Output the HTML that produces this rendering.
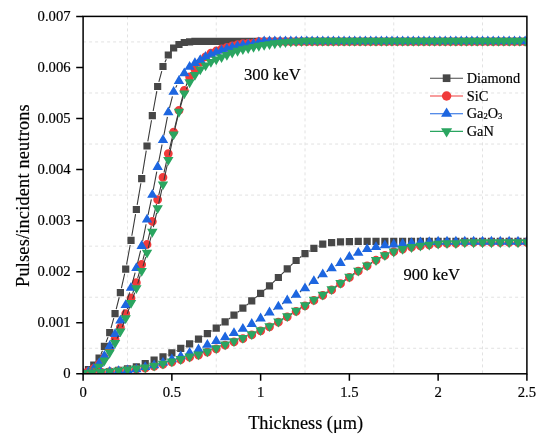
<!DOCTYPE html>
<html lang="en"><head><meta charset="utf-8"><title>Pulses per incident neutron vs thickness</title>
<style>
html,body{margin:0;padding:0;background:#fff}
body{width:550px;height:443px;overflow:hidden}
svg{display:block}
text{font-family:"Liberation Serif","Times New Roman",serif;fill:#000;stroke:#000;stroke-width:0.18px}
.tk{font-size:14.7px}
.lg{font-size:14.35px}
.an{font-size:16.6px}
.ti{font-size:18.3px}
</style></head><body>
<svg width="550" height="443" viewBox="0 0 550 443">
<rect width="550" height="443" fill="#fff"/>
<path d="M127.48 16.4V373.8M216.24 16.4V373.8M305 16.4V373.8M393.76 16.4V373.8M482.52 16.4V373.8M83.1 348.27H526.9M83.1 297.21H526.9M83.1 246.16H526.9M83.1 195.1H526.9M83.1 144.04H526.9M83.1 92.99H526.9M83.1 41.93H526.9" stroke="#e2e2e2" stroke-width="1" stroke-dasharray="3 3" fill="none"/>
<clipPath id="fr"><rect x="83.1" y="16.4" width="443.8" height="357.4"/></clipPath><g clip-path="url(#fr)">
<g><path d="M101.01 353.92L102.47 350.68M106.11 342.02L108.03 337.08M110.99 328.17L113.79 318.13M116.21 309.05L119.22 297.25M121.41 288.12L124.67 273.68M126.56 264.48L130.17 245.02M131.83 235.77L135.56 214.13M137.15 204.87L140.88 183.23M142.44 173.96L146.25 150.64M147.82 141.37L151.52 120.23M153.18 110.98L156.81 91.12M158.87 81.96L161.77 71.04M164.96 62.24L166.33 59.26" stroke="#3a3a3a" stroke-width="1.1" fill="none"/><path d="M79.5 369.9h7.2v7.2h-7.2zM84.83 365.9h7.2v7.2h-7.2zM90.15 361.5h7.2v7.2h-7.2zM95.48 354.6h7.2v7.2h-7.2zM100.8 342.8h7.2v7.2h-7.2zM106.13 329.1h7.2v7.2h-7.2zM111.45 310h7.2v7.2h-7.2zM116.78 289.1h7.2v7.2h-7.2zM122.1 265.5h7.2v7.2h-7.2zM127.43 236.8h7.2v7.2h-7.2zM132.76 205.9h7.2v7.2h-7.2zM138.08 175h7.2v7.2h-7.2zM143.41 142.4h7.2v7.2h-7.2zM148.73 112h7.2v7.2h-7.2zM154.06 82.9h7.2v7.2h-7.2zM159.38 62.9h7.2v7.2h-7.2zM164.71 51.4h7.2v7.2h-7.2zM170.04 44.4h7.2v7.2h-7.2zM175.36 40.9h7.2v7.2h-7.2zM180.69 38.9h7.2v7.2h-7.2zM186.01 38.2h7.2v7.2h-7.2zM191.34 37.8h7.2v7.2h-7.2zM196.66 37.7h7.2v7.2h-7.2zM201.99 37.7h7.2v7.2h-7.2zM207.31 37.7h7.2v7.2h-7.2zM212.64 37.7h7.2v7.2h-7.2zM217.97 37.7h7.2v7.2h-7.2zM223.29 37.7h7.2v7.2h-7.2zM228.62 37.7h7.2v7.2h-7.2zM233.94 37.7h7.2v7.2h-7.2zM239.27 37.7h7.2v7.2h-7.2zM244.59 37.7h7.2v7.2h-7.2zM249.92 37.7h7.2v7.2h-7.2zM255.24 37.7h7.2v7.2h-7.2zM260.57 37.7h7.2v7.2h-7.2zM265.9 37.7h7.2v7.2h-7.2zM271.22 37.7h7.2v7.2h-7.2zM276.55 37.7h7.2v7.2h-7.2zM281.87 37.7h7.2v7.2h-7.2zM287.2 37.7h7.2v7.2h-7.2zM292.52 37.7h7.2v7.2h-7.2zM297.85 37.7h7.2v7.2h-7.2zM303.18 37.7h7.2v7.2h-7.2zM308.5 37.7h7.2v7.2h-7.2zM313.83 37.7h7.2v7.2h-7.2zM319.15 37.7h7.2v7.2h-7.2zM324.48 37.7h7.2v7.2h-7.2zM329.8 37.7h7.2v7.2h-7.2zM335.13 37.7h7.2v7.2h-7.2zM340.45 37.7h7.2v7.2h-7.2zM345.78 37.7h7.2v7.2h-7.2zM351.11 37.7h7.2v7.2h-7.2zM356.43 37.7h7.2v7.2h-7.2zM361.76 37.7h7.2v7.2h-7.2zM367.08 37.7h7.2v7.2h-7.2zM372.41 37.7h7.2v7.2h-7.2zM377.73 37.7h7.2v7.2h-7.2zM383.06 37.7h7.2v7.2h-7.2zM388.38 37.7h7.2v7.2h-7.2zM393.71 37.7h7.2v7.2h-7.2zM399.04 37.7h7.2v7.2h-7.2zM404.36 37.7h7.2v7.2h-7.2zM409.69 37.7h7.2v7.2h-7.2zM415.01 37.7h7.2v7.2h-7.2zM420.34 37.7h7.2v7.2h-7.2zM425.66 37.7h7.2v7.2h-7.2zM430.99 37.7h7.2v7.2h-7.2zM436.32 37.7h7.2v7.2h-7.2zM441.64 37.7h7.2v7.2h-7.2zM446.97 37.7h7.2v7.2h-7.2zM452.29 37.7h7.2v7.2h-7.2zM457.62 37.7h7.2v7.2h-7.2zM462.94 37.7h7.2v7.2h-7.2zM468.27 37.7h7.2v7.2h-7.2zM473.59 37.7h7.2v7.2h-7.2zM478.92 37.7h7.2v7.2h-7.2zM484.25 37.7h7.2v7.2h-7.2zM489.57 37.7h7.2v7.2h-7.2zM494.9 37.7h7.2v7.2h-7.2zM500.22 37.7h7.2v7.2h-7.2zM505.55 37.7h7.2v7.2h-7.2zM510.87 37.7h7.2v7.2h-7.2zM516.2 37.7h7.2v7.2h-7.2zM521.52 37.7h7.2v7.2h-7.2z" fill="#474747"/></g>
<g><path d="M106.9 353.52L107.23 352.98M111.95 344.86L112.83 343.24M116.99 334.82L118.45 331.58M122.08 322.92L124 317.98M127.22 309.15L129.51 302.45M132.58 293.56L134.81 287.14M137.68 278.19L140.36 269.01M142.89 259.96L145.8 249.04M148.07 239.92L151.27 226.08M153.44 216.93L156.55 204.17M158.75 195.03L161.89 181.87M164.01 172.71L167.28 158.19M169.44 149.04L172.51 136.66M174.76 127.54L177.84 114.96M180.17 105.86L183.08 94.94M186 86.02L187.9 81.18" stroke="#3a3a3a" stroke-width="1.1" fill="none"/><path d="M78.7 373.5a4.4 4.4 0 1 0 8.8 0a4.4 4.4 0 1 0 -8.8 0zM84.03 371.5a4.4 4.4 0 1 0 8.8 0a4.4 4.4 0 1 0 -8.8 0zM89.35 368.5a4.4 4.4 0 1 0 8.8 0a4.4 4.4 0 1 0 -8.8 0zM94.68 364a4.4 4.4 0 1 0 8.8 0a4.4 4.4 0 1 0 -8.8 0zM100 357.5a4.4 4.4 0 1 0 8.8 0a4.4 4.4 0 1 0 -8.8 0zM105.33 349a4.4 4.4 0 1 0 8.8 0a4.4 4.4 0 1 0 -8.8 0zM110.65 339.1a4.4 4.4 0 1 0 8.8 0a4.4 4.4 0 1 0 -8.8 0zM115.98 327.3a4.4 4.4 0 1 0 8.8 0a4.4 4.4 0 1 0 -8.8 0zM121.3 313.6a4.4 4.4 0 1 0 8.8 0a4.4 4.4 0 1 0 -8.8 0zM126.63 298a4.4 4.4 0 1 0 8.8 0a4.4 4.4 0 1 0 -8.8 0zM131.96 282.7a4.4 4.4 0 1 0 8.8 0a4.4 4.4 0 1 0 -8.8 0zM137.28 264.5a4.4 4.4 0 1 0 8.8 0a4.4 4.4 0 1 0 -8.8 0zM142.61 244.5a4.4 4.4 0 1 0 8.8 0a4.4 4.4 0 1 0 -8.8 0zM147.93 221.5a4.4 4.4 0 1 0 8.8 0a4.4 4.4 0 1 0 -8.8 0zM153.26 199.6a4.4 4.4 0 1 0 8.8 0a4.4 4.4 0 1 0 -8.8 0zM158.58 177.3a4.4 4.4 0 1 0 8.8 0a4.4 4.4 0 1 0 -8.8 0zM163.91 153.6a4.4 4.4 0 1 0 8.8 0a4.4 4.4 0 1 0 -8.8 0zM169.24 132.1a4.4 4.4 0 1 0 8.8 0a4.4 4.4 0 1 0 -8.8 0zM174.56 110.4a4.4 4.4 0 1 0 8.8 0a4.4 4.4 0 1 0 -8.8 0zM179.89 90.4a4.4 4.4 0 1 0 8.8 0a4.4 4.4 0 1 0 -8.8 0zM185.21 76.8a4.4 4.4 0 1 0 8.8 0a4.4 4.4 0 1 0 -8.8 0zM190.54 69.4a4.4 4.4 0 1 0 8.8 0a4.4 4.4 0 1 0 -8.8 0zM195.86 62.3a4.4 4.4 0 1 0 8.8 0a4.4 4.4 0 1 0 -8.8 0zM201.19 56.8a4.4 4.4 0 1 0 8.8 0a4.4 4.4 0 1 0 -8.8 0zM206.51 53.2a4.4 4.4 0 1 0 8.8 0a4.4 4.4 0 1 0 -8.8 0zM211.84 51a4.4 4.4 0 1 0 8.8 0a4.4 4.4 0 1 0 -8.8 0zM217.17 49a4.4 4.4 0 1 0 8.8 0a4.4 4.4 0 1 0 -8.8 0zM222.49 47.3a4.4 4.4 0 1 0 8.8 0a4.4 4.4 0 1 0 -8.8 0zM227.82 45.9a4.4 4.4 0 1 0 8.8 0a4.4 4.4 0 1 0 -8.8 0zM233.14 44.6a4.4 4.4 0 1 0 8.8 0a4.4 4.4 0 1 0 -8.8 0zM238.47 43.7a4.4 4.4 0 1 0 8.8 0a4.4 4.4 0 1 0 -8.8 0zM243.79 43.3a4.4 4.4 0 1 0 8.8 0a4.4 4.4 0 1 0 -8.8 0zM249.12 43.1a4.4 4.4 0 1 0 8.8 0a4.4 4.4 0 1 0 -8.8 0zM254.44 41.7a4.4 4.4 0 1 0 8.8 0a4.4 4.4 0 1 0 -8.8 0zM259.77 41.7a4.4 4.4 0 1 0 8.8 0a4.4 4.4 0 1 0 -8.8 0zM265.1 41.7a4.4 4.4 0 1 0 8.8 0a4.4 4.4 0 1 0 -8.8 0zM270.42 41.7a4.4 4.4 0 1 0 8.8 0a4.4 4.4 0 1 0 -8.8 0zM275.75 41.7a4.4 4.4 0 1 0 8.8 0a4.4 4.4 0 1 0 -8.8 0zM281.07 41.7a4.4 4.4 0 1 0 8.8 0a4.4 4.4 0 1 0 -8.8 0zM286.4 41.7a4.4 4.4 0 1 0 8.8 0a4.4 4.4 0 1 0 -8.8 0zM291.72 41.7a4.4 4.4 0 1 0 8.8 0a4.4 4.4 0 1 0 -8.8 0zM297.05 41.7a4.4 4.4 0 1 0 8.8 0a4.4 4.4 0 1 0 -8.8 0zM302.38 41.7a4.4 4.4 0 1 0 8.8 0a4.4 4.4 0 1 0 -8.8 0zM307.7 41.7a4.4 4.4 0 1 0 8.8 0a4.4 4.4 0 1 0 -8.8 0zM313.03 41.7a4.4 4.4 0 1 0 8.8 0a4.4 4.4 0 1 0 -8.8 0zM318.35 41.7a4.4 4.4 0 1 0 8.8 0a4.4 4.4 0 1 0 -8.8 0zM323.68 41.7a4.4 4.4 0 1 0 8.8 0a4.4 4.4 0 1 0 -8.8 0zM329 41.7a4.4 4.4 0 1 0 8.8 0a4.4 4.4 0 1 0 -8.8 0zM334.33 41.7a4.4 4.4 0 1 0 8.8 0a4.4 4.4 0 1 0 -8.8 0zM339.65 41.7a4.4 4.4 0 1 0 8.8 0a4.4 4.4 0 1 0 -8.8 0zM344.98 41.7a4.4 4.4 0 1 0 8.8 0a4.4 4.4 0 1 0 -8.8 0zM350.31 41.7a4.4 4.4 0 1 0 8.8 0a4.4 4.4 0 1 0 -8.8 0zM355.63 41.7a4.4 4.4 0 1 0 8.8 0a4.4 4.4 0 1 0 -8.8 0zM360.96 41.7a4.4 4.4 0 1 0 8.8 0a4.4 4.4 0 1 0 -8.8 0zM366.28 41.7a4.4 4.4 0 1 0 8.8 0a4.4 4.4 0 1 0 -8.8 0zM371.61 41.7a4.4 4.4 0 1 0 8.8 0a4.4 4.4 0 1 0 -8.8 0zM376.93 41.7a4.4 4.4 0 1 0 8.8 0a4.4 4.4 0 1 0 -8.8 0zM382.26 41.7a4.4 4.4 0 1 0 8.8 0a4.4 4.4 0 1 0 -8.8 0zM387.58 41.7a4.4 4.4 0 1 0 8.8 0a4.4 4.4 0 1 0 -8.8 0zM392.91 41.7a4.4 4.4 0 1 0 8.8 0a4.4 4.4 0 1 0 -8.8 0zM398.24 41.7a4.4 4.4 0 1 0 8.8 0a4.4 4.4 0 1 0 -8.8 0zM403.56 41.7a4.4 4.4 0 1 0 8.8 0a4.4 4.4 0 1 0 -8.8 0zM408.89 41.7a4.4 4.4 0 1 0 8.8 0a4.4 4.4 0 1 0 -8.8 0zM414.21 41.7a4.4 4.4 0 1 0 8.8 0a4.4 4.4 0 1 0 -8.8 0zM419.54 41.7a4.4 4.4 0 1 0 8.8 0a4.4 4.4 0 1 0 -8.8 0zM424.86 41.7a4.4 4.4 0 1 0 8.8 0a4.4 4.4 0 1 0 -8.8 0zM430.19 41.7a4.4 4.4 0 1 0 8.8 0a4.4 4.4 0 1 0 -8.8 0zM435.52 41.7a4.4 4.4 0 1 0 8.8 0a4.4 4.4 0 1 0 -8.8 0zM440.84 41.7a4.4 4.4 0 1 0 8.8 0a4.4 4.4 0 1 0 -8.8 0zM446.17 41.7a4.4 4.4 0 1 0 8.8 0a4.4 4.4 0 1 0 -8.8 0zM451.49 41.7a4.4 4.4 0 1 0 8.8 0a4.4 4.4 0 1 0 -8.8 0zM456.82 41.7a4.4 4.4 0 1 0 8.8 0a4.4 4.4 0 1 0 -8.8 0zM462.14 41.7a4.4 4.4 0 1 0 8.8 0a4.4 4.4 0 1 0 -8.8 0zM467.47 41.7a4.4 4.4 0 1 0 8.8 0a4.4 4.4 0 1 0 -8.8 0zM472.79 41.7a4.4 4.4 0 1 0 8.8 0a4.4 4.4 0 1 0 -8.8 0zM478.12 41.7a4.4 4.4 0 1 0 8.8 0a4.4 4.4 0 1 0 -8.8 0zM483.45 41.7a4.4 4.4 0 1 0 8.8 0a4.4 4.4 0 1 0 -8.8 0zM488.77 41.7a4.4 4.4 0 1 0 8.8 0a4.4 4.4 0 1 0 -8.8 0zM494.1 41.7a4.4 4.4 0 1 0 8.8 0a4.4 4.4 0 1 0 -8.8 0zM499.42 41.7a4.4 4.4 0 1 0 8.8 0a4.4 4.4 0 1 0 -8.8 0zM504.75 41.7a4.4 4.4 0 1 0 8.8 0a4.4 4.4 0 1 0 -8.8 0zM510.07 41.7a4.4 4.4 0 1 0 8.8 0a4.4 4.4 0 1 0 -8.8 0zM515.4 41.7a4.4 4.4 0 1 0 8.8 0a4.4 4.4 0 1 0 -8.8 0zM520.72 41.7a4.4 4.4 0 1 0 8.8 0a4.4 4.4 0 1 0 -8.8 0z" fill="#f03b3b"/></g>
<g><path d="M106.61 351.8L107.52 350.1M111.66 341.67L113.12 338.43M116.77 329.77L118.67 324.93M121.91 316.11L124.18 309.49M127.09 300.56L129.64 292.34M132.26 283.31L135.13 272.69M137.45 263.58L140.59 250.52M142.61 241.34L146.07 224.26M147.99 215.05L151.35 199.35M153.22 190.13L156.77 171.57M158.57 162.34L162.07 144.66M163.87 135.43L167.42 116.97M169.49 107.8L172.45 96.4M175.7 87.63L176.9 85.17" stroke="#3a3a3a" stroke-width="1.1" fill="none"/><path d="M83.1 367.93L88.3 376.73L77.9 376.73zM88.43 366.08L93.63 374.88L83.23 374.88zM93.75 363.08L98.95 371.88L88.55 371.88zM99.08 357.58L104.28 366.38L93.88 366.38zM104.4 350.08L109.6 358.88L99.2 358.88zM109.73 340.08L114.93 348.88L104.53 348.88zM115.05 328.28L120.25 337.08L109.85 337.08zM120.38 314.68L125.58 323.48L115.18 323.48zM125.7 299.18L130.9 307.98L120.5 307.98zM131.03 281.98L136.23 290.78L125.83 290.78zM136.36 262.28L141.56 271.08L131.16 271.08zM141.68 240.08L146.88 248.88L136.48 248.88zM147.01 213.78L152.21 222.58L141.81 222.58zM152.33 188.88L157.53 197.68L147.13 197.68zM157.66 161.08L162.86 169.88L152.46 169.88zM162.98 134.18L168.18 142.98L157.78 142.98zM168.31 106.48L173.51 115.28L163.11 115.28zM173.64 85.98L178.84 94.78L168.44 94.78zM178.96 75.08L184.16 83.88L173.76 83.88zM184.29 67.38L189.49 76.18L179.09 76.18zM189.61 60.98L194.81 69.78L184.41 69.78zM194.94 57.28L200.14 66.08L189.74 66.08zM200.26 54.18L205.46 62.98L195.06 62.98zM205.59 51.08L210.79 59.88L200.39 59.88zM210.91 48.78L216.11 57.58L205.71 57.58zM216.24 46.58L221.44 55.38L211.04 55.38zM221.57 44.58L226.77 53.38L216.37 53.38zM226.89 42.88L232.09 51.68L221.69 51.68zM232.22 41.48L237.42 50.28L227.02 50.28zM237.54 40.18L242.74 48.98L232.34 48.98zM242.87 39.28L248.07 48.08L237.67 48.08zM248.19 38.68L253.39 47.48L242.99 47.48zM253.52 37.88L258.72 46.68L248.32 46.68zM258.84 36.48L264.04 45.28L253.64 45.28zM264.17 35.43L269.37 44.23L258.97 44.23zM269.5 35.43L274.7 44.23L264.3 44.23zM274.82 35.43L280.02 44.23L269.62 44.23zM280.15 35.43L285.35 44.23L274.95 44.23zM285.47 35.43L290.67 44.23L280.27 44.23zM290.8 35.43L296 44.23L285.6 44.23zM296.12 35.43L301.32 44.23L290.92 44.23zM301.45 35.43L306.65 44.23L296.25 44.23zM306.78 35.43L311.98 44.23L301.58 44.23zM312.1 35.43L317.3 44.23L306.9 44.23zM317.43 35.43L322.63 44.23L312.23 44.23zM322.75 35.43L327.95 44.23L317.55 44.23zM328.08 35.43L333.28 44.23L322.88 44.23zM333.4 35.43L338.6 44.23L328.2 44.23zM338.73 35.43L343.93 44.23L333.53 44.23zM344.05 35.43L349.25 44.23L338.85 44.23zM349.38 35.43L354.58 44.23L344.18 44.23zM354.71 35.43L359.91 44.23L349.51 44.23zM360.03 35.43L365.23 44.23L354.83 44.23zM365.36 35.43L370.56 44.23L360.16 44.23zM370.68 35.43L375.88 44.23L365.48 44.23zM376.01 35.43L381.21 44.23L370.81 44.23zM381.33 35.43L386.53 44.23L376.13 44.23zM386.66 35.43L391.86 44.23L381.46 44.23zM391.98 35.43L397.18 44.23L386.78 44.23zM397.31 35.43L402.51 44.23L392.11 44.23zM402.64 35.43L407.84 44.23L397.44 44.23zM407.96 35.43L413.16 44.23L402.76 44.23zM413.29 35.43L418.49 44.23L408.09 44.23zM418.61 35.43L423.81 44.23L413.41 44.23zM423.94 35.43L429.14 44.23L418.74 44.23zM429.26 35.43L434.46 44.23L424.06 44.23zM434.59 35.43L439.79 44.23L429.39 44.23zM439.92 35.43L445.12 44.23L434.72 44.23zM445.24 35.43L450.44 44.23L440.04 44.23zM450.57 35.43L455.77 44.23L445.37 44.23zM455.89 35.43L461.09 44.23L450.69 44.23zM461.22 35.43L466.42 44.23L456.02 44.23zM466.54 35.43L471.74 44.23L461.34 44.23zM471.87 35.43L477.07 44.23L466.67 44.23zM477.19 35.43L482.39 44.23L471.99 44.23zM482.52 35.43L487.72 44.23L477.32 44.23zM487.85 35.43L493.05 44.23L482.65 44.23zM493.17 35.43L498.37 44.23L487.97 44.23zM498.5 35.43L503.7 44.23L493.3 44.23zM503.82 35.43L509.02 44.23L498.62 44.23zM509.15 35.43L514.35 44.23L503.95 44.23zM514.47 35.43L519.67 44.23L509.27 44.23zM519.8 35.43L525 44.23L514.6 44.23zM525.12 35.43L530.32 44.23L519.92 44.23z" fill="#1d66e0"/></g>
<g><path d="M112.03 348.3L112.76 347M117.04 338.64L118.39 335.76M122.13 327.14L123.96 322.56M127.26 313.76L129.48 307.44M132.62 298.58L134.76 292.62M137.74 283.71L140.3 275.39M143 266.39L145.69 257.21M148.17 248.15L151.17 236.35M153.37 227.22L156.62 212.78M158.69 203.61L161.95 189.09M163.98 179.91L167.31 164.59M169.27 155.4L172.67 139.1M174.71 129.92L177.89 116.38M180.27 107.29L182.98 97.91M186.32 89.16L187.58 86.54" stroke="#3a3a3a" stroke-width="1.1" fill="none"/><path d="M83.1 379.67L88.3 370.87L77.9 370.87zM88.43 379.17L93.63 370.37L83.23 370.37zM93.75 376.57L98.95 367.77L88.55 367.77zM99.08 372.47L104.28 363.67L93.88 363.67zM104.4 366.37L109.6 357.57L99.2 357.57zM109.73 358.27L114.93 349.47L104.53 349.47zM115.05 348.77L120.25 339.97L109.85 339.97zM120.38 337.37L125.58 328.57L115.18 328.57zM125.7 324.07L130.9 315.27L120.5 315.27zM131.03 308.87L136.23 300.07L125.83 300.07zM136.36 294.07L141.56 285.27L131.16 285.27zM141.68 276.77L146.88 267.97L136.48 267.97zM147.01 258.57L152.21 249.77L141.81 249.77zM152.33 237.67L157.53 228.87L147.13 228.87zM157.66 214.07L162.86 205.27L152.46 205.27zM162.98 190.37L168.18 181.57L157.78 181.57zM168.31 165.87L173.51 157.07L163.11 157.07zM173.64 140.37L178.84 131.57L168.44 131.57zM178.96 117.67L184.16 108.87L173.76 108.87zM184.29 99.27L189.49 90.47L179.09 90.47zM189.61 88.17L194.81 79.37L184.41 79.37zM194.94 80.87L200.14 72.07L189.74 72.07zM200.26 75.37L205.46 66.57L195.06 66.57zM205.59 71.27L210.79 62.47L200.39 62.47zM210.91 67.77L216.11 58.97L205.71 58.97zM216.24 65.37L221.44 56.57L211.04 56.57zM221.57 63.07L226.77 54.27L216.37 54.27zM226.89 60.87L232.09 52.07L221.69 52.07zM232.22 58.47L237.42 49.67L227.02 49.67zM237.54 56.67L242.74 47.87L232.34 47.87zM242.87 55.07L248.07 46.27L237.67 46.27zM248.19 54.07L253.39 45.27L242.99 45.27zM253.52 52.87L258.72 44.07L248.32 44.07zM258.84 51.67L264.04 42.87L253.64 42.87zM264.17 50.77L269.37 41.97L258.97 41.97zM269.5 49.97L274.7 41.17L264.3 41.17zM274.82 49.17L280.02 40.37L269.62 40.37zM280.15 48.57L285.35 39.77L274.95 39.77zM285.47 47.97L290.67 39.17L280.27 39.17zM290.8 47.57L296 38.77L285.6 38.77zM296.12 47.27L301.32 38.47L290.92 38.47zM301.45 47.07L306.65 38.27L296.25 38.27zM306.78 46.67L311.98 37.87L301.58 37.87zM312.1 46.67L317.3 37.87L306.9 37.87zM317.43 46.67L322.63 37.87L312.23 37.87zM322.75 46.67L327.95 37.87L317.55 37.87zM328.08 46.67L333.28 37.87L322.88 37.87zM333.4 46.67L338.6 37.87L328.2 37.87zM338.73 46.67L343.93 37.87L333.53 37.87zM344.05 46.67L349.25 37.87L338.85 37.87zM349.38 46.67L354.58 37.87L344.18 37.87zM354.71 46.67L359.91 37.87L349.51 37.87zM360.03 46.67L365.23 37.87L354.83 37.87zM365.36 46.67L370.56 37.87L360.16 37.87zM370.68 46.67L375.88 37.87L365.48 37.87zM376.01 46.67L381.21 37.87L370.81 37.87zM381.33 46.67L386.53 37.87L376.13 37.87zM386.66 46.67L391.86 37.87L381.46 37.87zM391.98 46.67L397.18 37.87L386.78 37.87zM397.31 46.67L402.51 37.87L392.11 37.87zM402.64 46.67L407.84 37.87L397.44 37.87zM407.96 46.67L413.16 37.87L402.76 37.87zM413.29 46.67L418.49 37.87L408.09 37.87zM418.61 46.67L423.81 37.87L413.41 37.87zM423.94 46.67L429.14 37.87L418.74 37.87zM429.26 46.67L434.46 37.87L424.06 37.87zM434.59 46.67L439.79 37.87L429.39 37.87zM439.92 46.67L445.12 37.87L434.72 37.87zM445.24 46.67L450.44 37.87L440.04 37.87zM450.57 46.67L455.77 37.87L445.37 37.87zM455.89 46.67L461.09 37.87L450.69 37.87zM461.22 46.67L466.42 37.87L456.02 37.87zM466.54 46.67L471.74 37.87L461.34 37.87zM471.87 46.67L477.07 37.87L466.67 37.87zM477.19 46.67L482.39 37.87L471.99 37.87zM482.52 46.67L487.72 37.87L477.32 37.87zM487.85 46.67L493.05 37.87L482.65 37.87zM493.17 46.67L498.37 37.87L487.97 37.87zM498.5 46.67L503.7 37.87L493.3 37.87zM503.82 46.67L509.02 37.87L498.62 37.87zM509.15 46.67L514.35 37.87L503.95 37.87zM514.47 46.67L519.67 37.87L509.27 37.87zM519.8 46.67L525 37.87L514.6 37.87zM525.12 46.67L530.32 37.87L519.92 37.87z" fill="#2aa560"/></g>
<g><path d="M167.27 354.97L167.58 354.83M176.05 350.77L176.54 350.53M184.91 346.24L185.44 345.96M193.77 341.6L194.33 341.3M202.5 336.66L203.35 336.14M211.36 331.22L212.24 330.68M220.05 325.45L221.3 324.55M228.87 318.97L230.24 317.93M237.7 312.22L239.16 311.08M246.5 305.21L248.11 303.89M255.31 297.84L257.05 296.36M264.21 290.27L265.91 288.83M272.93 282.59L274.94 280.71M281.73 274.21L283.89 272.09M290.68 265.59L292.69 263.71M299.85 257.64L301.27 256.56M309.02 251.26L309.86 250.74M318.12 246.29L318.5 246.11" stroke="#3a3a3a" stroke-width="1.1" fill="none"/><path d="M79.5 370h7.2v7.2h-7.2zM88.38 369.4h7.2v7.2h-7.2zM97.25 368.7h7.2v7.2h-7.2zM106.13 367.9h7.2v7.2h-7.2zM115 366.8h7.2v7.2h-7.2zM123.88 365.2h7.2v7.2h-7.2zM132.76 363.2h7.2v7.2h-7.2zM141.63 359.9h7.2v7.2h-7.2zM150.51 356.4h7.2v7.2h-7.2zM159.38 353.3h7.2v7.2h-7.2zM168.26 349.3h7.2v7.2h-7.2zM177.14 344.8h7.2v7.2h-7.2zM186.01 340.2h7.2v7.2h-7.2zM194.89 335.5h7.2v7.2h-7.2zM203.76 330.1h7.2v7.2h-7.2zM212.64 324.6h7.2v7.2h-7.2zM221.52 318.2h7.2v7.2h-7.2zM230.39 311.5h7.2v7.2h-7.2zM239.27 304.6h7.2v7.2h-7.2zM248.14 297.3h7.2v7.2h-7.2zM257.02 289.7h7.2v7.2h-7.2zM265.9 282.2h7.2v7.2h-7.2zM274.77 273.9h7.2v7.2h-7.2zM283.65 265.2h7.2v7.2h-7.2zM292.52 256.9h7.2v7.2h-7.2zM301.4 250.1h7.2v7.2h-7.2zM310.28 244.7h7.2v7.2h-7.2zM319.15 240.5h7.2v7.2h-7.2zM328.03 239h7.2v7.2h-7.2zM336.9 238.3h7.2v7.2h-7.2zM345.78 238h7.2v7.2h-7.2zM354.66 237.8h7.2v7.2h-7.2zM363.53 237.7h7.2v7.2h-7.2zM372.41 237.7h7.2v7.2h-7.2zM381.28 237.7h7.2v7.2h-7.2zM390.16 237.7h7.2v7.2h-7.2zM399.04 237.7h7.2v7.2h-7.2zM407.91 237.7h7.2v7.2h-7.2zM416.79 237.7h7.2v7.2h-7.2zM425.66 237.7h7.2v7.2h-7.2zM434.54 237.7h7.2v7.2h-7.2zM443.42 237.7h7.2v7.2h-7.2zM452.29 237.7h7.2v7.2h-7.2zM461.17 237.7h7.2v7.2h-7.2zM470.04 237.7h7.2v7.2h-7.2zM478.92 237.7h7.2v7.2h-7.2zM487.8 237.7h7.2v7.2h-7.2zM496.67 237.7h7.2v7.2h-7.2zM505.55 237.7h7.2v7.2h-7.2zM514.42 237.7h7.2v7.2h-7.2zM523.3 237.7h7.2v7.2h-7.2z" fill="#474747"/></g>
<g><path d="M256.03 333.02L256.34 332.88M264.89 328.98L265.23 328.82M273.67 324.69L274.2 324.41M282.39 319.81L283.23 319.29M291.26 314.41L292.11 313.89M300.12 308.97L301 308.43M309 303.47L309.88 302.93M317.97 298.14L318.66 297.76M326.75 292.97L327.63 292.43M335.46 287.23L336.67 286.37M344.36 280.96L345.53 280.14M353.22 274.74L354.42 273.89M362.28 268.75L363.11 268.25M371.11 263.32L372.03 262.75M380.14 258.01L380.75 257.69" stroke="#3a3a3a" stroke-width="1.1" fill="none"/><path d="M78.7 372.85a4.4 4.4 0 1 0 8.8 0a4.4 4.4 0 1 0 -8.8 0zM87.58 372.55a4.4 4.4 0 1 0 8.8 0a4.4 4.4 0 1 0 -8.8 0zM96.45 372.05a4.4 4.4 0 1 0 8.8 0a4.4 4.4 0 1 0 -8.8 0zM105.33 371.58a4.4 4.4 0 1 0 8.8 0a4.4 4.4 0 1 0 -8.8 0zM114.2 370.92a4.4 4.4 0 1 0 8.8 0a4.4 4.4 0 1 0 -8.8 0zM123.08 370.05a4.4 4.4 0 1 0 8.8 0a4.4 4.4 0 1 0 -8.8 0zM131.96 369.25a4.4 4.4 0 1 0 8.8 0a4.4 4.4 0 1 0 -8.8 0zM140.83 368.15a4.4 4.4 0 1 0 8.8 0a4.4 4.4 0 1 0 -8.8 0zM149.71 366.35a4.4 4.4 0 1 0 8.8 0a4.4 4.4 0 1 0 -8.8 0zM158.58 364.35a4.4 4.4 0 1 0 8.8 0a4.4 4.4 0 1 0 -8.8 0zM167.46 362.05a4.4 4.4 0 1 0 8.8 0a4.4 4.4 0 1 0 -8.8 0zM176.34 359.75a4.4 4.4 0 1 0 8.8 0a4.4 4.4 0 1 0 -8.8 0zM185.21 357.25a4.4 4.4 0 1 0 8.8 0a4.4 4.4 0 1 0 -8.8 0zM194.09 355.05a4.4 4.4 0 1 0 8.8 0a4.4 4.4 0 1 0 -8.8 0zM202.96 352.05a4.4 4.4 0 1 0 8.8 0a4.4 4.4 0 1 0 -8.8 0zM211.84 348.85a4.4 4.4 0 1 0 8.8 0a4.4 4.4 0 1 0 -8.8 0zM220.72 345.15a4.4 4.4 0 1 0 8.8 0a4.4 4.4 0 1 0 -8.8 0zM229.59 341.95a4.4 4.4 0 1 0 8.8 0a4.4 4.4 0 1 0 -8.8 0zM238.47 338.65a4.4 4.4 0 1 0 8.8 0a4.4 4.4 0 1 0 -8.8 0zM247.34 334.95a4.4 4.4 0 1 0 8.8 0a4.4 4.4 0 1 0 -8.8 0zM256.22 330.95a4.4 4.4 0 1 0 8.8 0a4.4 4.4 0 1 0 -8.8 0zM265.1 326.85a4.4 4.4 0 1 0 8.8 0a4.4 4.4 0 1 0 -8.8 0zM273.97 322.25a4.4 4.4 0 1 0 8.8 0a4.4 4.4 0 1 0 -8.8 0zM282.85 316.85a4.4 4.4 0 1 0 8.8 0a4.4 4.4 0 1 0 -8.8 0zM291.72 311.45a4.4 4.4 0 1 0 8.8 0a4.4 4.4 0 1 0 -8.8 0zM300.6 305.95a4.4 4.4 0 1 0 8.8 0a4.4 4.4 0 1 0 -8.8 0zM309.48 300.45a4.4 4.4 0 1 0 8.8 0a4.4 4.4 0 1 0 -8.8 0zM318.35 295.45a4.4 4.4 0 1 0 8.8 0a4.4 4.4 0 1 0 -8.8 0zM327.23 289.95a4.4 4.4 0 1 0 8.8 0a4.4 4.4 0 1 0 -8.8 0zM336.1 283.65a4.4 4.4 0 1 0 8.8 0a4.4 4.4 0 1 0 -8.8 0zM344.98 277.45a4.4 4.4 0 1 0 8.8 0a4.4 4.4 0 1 0 -8.8 0zM353.86 271.18a4.4 4.4 0 1 0 8.8 0a4.4 4.4 0 1 0 -8.8 0zM362.73 265.82a4.4 4.4 0 1 0 8.8 0a4.4 4.4 0 1 0 -8.8 0zM371.61 260.25a4.4 4.4 0 1 0 8.8 0a4.4 4.4 0 1 0 -8.8 0zM380.48 255.45a4.4 4.4 0 1 0 8.8 0a4.4 4.4 0 1 0 -8.8 0zM389.36 251.75a4.4 4.4 0 1 0 8.8 0a4.4 4.4 0 1 0 -8.8 0zM398.24 249.05a4.4 4.4 0 1 0 8.8 0a4.4 4.4 0 1 0 -8.8 0zM407.11 247.25a4.4 4.4 0 1 0 8.8 0a4.4 4.4 0 1 0 -8.8 0zM415.99 245.95a4.4 4.4 0 1 0 8.8 0a4.4 4.4 0 1 0 -8.8 0zM424.86 244.85a4.4 4.4 0 1 0 8.8 0a4.4 4.4 0 1 0 -8.8 0zM433.74 243.95a4.4 4.4 0 1 0 8.8 0a4.4 4.4 0 1 0 -8.8 0zM442.62 243.45a4.4 4.4 0 1 0 8.8 0a4.4 4.4 0 1 0 -8.8 0zM451.49 243.45a4.4 4.4 0 1 0 8.8 0a4.4 4.4 0 1 0 -8.8 0zM460.37 242.5a4.4 4.4 0 1 0 8.8 0a4.4 4.4 0 1 0 -8.8 0zM469.24 242.5a4.4 4.4 0 1 0 8.8 0a4.4 4.4 0 1 0 -8.8 0zM478.12 242.5a4.4 4.4 0 1 0 8.8 0a4.4 4.4 0 1 0 -8.8 0zM487 242.5a4.4 4.4 0 1 0 8.8 0a4.4 4.4 0 1 0 -8.8 0zM495.87 242.5a4.4 4.4 0 1 0 8.8 0a4.4 4.4 0 1 0 -8.8 0zM504.75 242.5a4.4 4.4 0 1 0 8.8 0a4.4 4.4 0 1 0 -8.8 0zM513.62 242.5a4.4 4.4 0 1 0 8.8 0a4.4 4.4 0 1 0 -8.8 0zM522.5 242.5a4.4 4.4 0 1 0 8.8 0a4.4 4.4 0 1 0 -8.8 0z" fill="#f03b3b"/></g>
<g><path d="M202.66 347.29L203.19 347.01M229.35 335.3L229.76 335.1M238.24 331.04L238.62 330.86M246.98 326.58L247.63 326.22M255.74 321.47L256.62 320.93M264.51 315.82L265.6 315.08M273.43 309.88L274.44 309.22M282.23 303.96L283.39 303.14M291.2 297.91L292.17 297.29M299.94 292L301.19 291.1M308.65 285.39L310.23 284.11M317.61 278.29L319.02 277.21M326.65 271.72L327.73 270.98M335.64 265.91L336.49 265.39M344.38 260.29L345.51 259.51M353.66 254.92L353.97 254.78" stroke="#3a3a3a" stroke-width="1.1" fill="none"/><path d="M83.1 367.78L88.3 376.58L77.9 376.58zM91.98 367.38L97.18 376.18L86.78 376.18zM100.85 366.78L106.05 375.58L95.65 375.58zM109.73 365.98L114.93 374.78L104.53 374.78zM118.6 365.23L123.8 374.03L113.4 374.03zM127.48 364.52L132.68 373.32L122.28 373.32zM136.36 363.45L141.56 372.25L131.16 372.25zM145.23 361.18L150.43 369.98L140.03 369.98zM154.11 359.38L159.31 368.18L148.91 368.18zM162.98 356.68L168.18 365.48L157.78 365.48zM171.86 353.38L177.06 362.18L166.66 362.18zM180.74 350.48L185.94 359.28L175.54 359.28zM189.61 346.98L194.81 355.78L184.41 355.78zM198.49 343.58L203.69 352.38L193.29 352.38zM207.36 338.98L212.56 347.78L202.16 347.78zM216.24 335.18L221.44 343.98L211.04 343.98zM225.12 331.48L230.32 340.28L219.92 340.28zM233.99 327.18L239.19 335.98L228.79 335.98zM242.87 322.98L248.07 331.78L237.67 331.78zM251.74 318.08L256.94 326.88L246.54 326.88zM260.62 312.58L265.82 321.38L255.42 321.38zM269.5 306.58L274.7 315.38L264.3 315.38zM278.37 300.78L283.57 309.58L273.17 309.58zM287.25 294.58L292.45 303.38L282.05 303.38zM296.12 288.88L301.32 297.68L290.92 297.68zM305 282.48L310.2 291.28L299.8 291.28zM313.88 275.28L319.08 284.08L308.68 284.08zM322.75 268.48L327.95 277.28L317.55 277.28zM331.63 262.48L336.83 271.28L326.43 271.28zM340.5 257.08L345.7 265.88L335.3 265.88zM349.38 250.98L354.58 259.78L344.18 259.78zM358.26 246.98L363.46 255.78L353.06 255.78zM367.13 243.28L372.33 252.08L361.93 252.08zM376.01 241.16L381.21 249.96L370.81 249.96zM384.88 239.53L390.08 248.33L379.68 248.33zM393.76 238.61L398.96 247.41L388.56 247.41zM402.64 238.08L407.84 246.88L397.44 246.88zM411.51 237.18L416.71 245.98L406.31 245.98zM420.39 236.48L425.59 245.28L415.19 245.28zM429.26 236.18L434.46 244.98L424.06 244.98zM438.14 235.83L443.34 244.63L432.94 244.63zM447.02 235.83L452.22 244.63L441.82 244.63zM455.89 235.83L461.09 244.63L450.69 244.63zM464.77 235.83L469.97 244.63L459.57 244.63zM473.64 235.83L478.84 244.63L468.44 244.63zM482.52 235.83L487.72 244.63L477.32 244.63zM491.4 235.83L496.6 244.63L486.2 244.63zM500.27 235.83L505.47 244.63L495.07 244.63zM509.15 235.83L514.35 244.63L503.95 244.63zM518.02 235.83L523.22 244.63L512.82 244.63zM526.9 235.83L532.1 244.63L521.7 244.63z" fill="#1d66e0"/></g>
<g><path d="M256.03 332.32L256.34 332.18M264.89 328.28L265.23 328.12M273.67 323.99L274.2 323.71M282.39 319.11L283.23 318.59M291.26 313.71L292.11 313.19M300.12 308.27L301 307.73M309 302.77L309.88 302.23M317.97 297.44L318.66 297.06M326.75 292.27L327.63 291.73M335.46 286.53L336.67 285.67M344.36 280.26L345.53 279.44M353.25 274.09L354.38 273.31M362.31 268.27L363.08 267.83M371.15 263.01L371.99 262.49M380.14 257.81L380.75 257.49" stroke="#3a3a3a" stroke-width="1.1" fill="none"/><path d="M83.1 378.72L88.3 369.92L77.9 369.92zM91.98 378.42L97.18 369.62L86.78 369.62zM100.85 377.92L106.05 369.12L95.65 369.12zM109.73 377.22L114.93 368.42L104.53 368.42zM118.6 376.32L123.8 367.52L113.4 367.52zM127.48 375.22L132.68 366.42L122.28 366.42zM136.36 374.42L141.56 365.62L131.16 365.62zM145.23 373.32L150.43 364.52L140.03 364.52zM154.11 371.52L159.31 362.72L148.91 362.72zM162.98 369.52L168.18 360.72L157.78 360.72zM171.86 367.22L177.06 358.42L166.66 358.42zM180.74 364.92L185.94 356.12L175.54 356.12zM189.61 362.42L194.81 353.62L184.41 353.62zM198.49 360.22L203.69 351.42L193.29 351.42zM207.36 357.22L212.56 348.42L202.16 348.42zM216.24 354.02L221.44 345.22L211.04 345.22zM225.12 350.32L230.32 341.52L219.92 341.52zM233.99 347.12L239.19 338.32L228.79 338.32zM242.87 343.82L248.07 335.02L237.67 335.02zM251.74 340.12L256.94 331.32L246.54 331.32zM260.62 336.12L265.82 327.32L255.42 327.32zM269.5 332.02L274.7 323.22L264.3 323.22zM278.37 327.42L283.57 318.62L273.17 318.62zM287.25 322.02L292.45 313.22L282.05 313.22zM296.12 316.62L301.32 307.82L290.92 307.82zM305 311.12L310.2 302.32L299.8 302.32zM313.88 305.62L319.08 296.82L308.68 296.82zM322.75 300.62L327.95 291.82L317.55 291.82zM331.63 295.12L336.83 286.32L326.43 286.32zM340.5 288.82L345.7 280.02L335.3 280.02zM349.38 282.62L354.58 273.82L344.18 273.82zM358.26 276.52L363.46 267.72L353.06 267.72zM367.13 271.32L372.33 262.52L361.93 262.52zM376.01 265.92L381.21 257.12L370.81 257.12zM384.88 261.12L390.08 252.32L379.68 252.32zM393.76 257.42L398.96 248.62L388.56 248.62zM402.64 254.72L407.84 245.92L397.44 245.92zM411.51 252.92L416.71 244.12L406.31 244.12zM420.39 251.62L425.59 242.82L415.19 242.82zM429.26 250.52L434.46 241.72L424.06 241.72zM438.14 249.62L443.34 240.82L432.94 240.82zM447.02 249.12L452.22 240.32L441.82 240.32zM455.89 249.12L461.09 240.32L450.69 240.32zM464.77 248.17L469.97 239.37L459.57 239.37zM473.64 248.17L478.84 239.37L468.44 239.37zM482.52 248.17L487.72 239.37L477.32 239.37zM491.4 248.17L496.6 239.37L486.2 239.37zM500.27 248.17L505.47 239.37L495.07 239.37zM509.15 248.17L514.35 239.37L503.95 239.37zM518.02 248.17L523.22 239.37L512.82 239.37zM526.9 248.17L532.1 239.37L521.7 239.37z" fill="#2aa560"/></g>
<path d="M523.8 40.2l2.2 3.8h-4.4z" fill="#1d66e0"/>
</g>
<rect x="83.1" y="16.4" width="443.8" height="357.4" fill="none" stroke="#000" stroke-width="1.5"/>
<path d="M83.1 373.8v6.9M171.86 373.8v6.9M260.62 373.8v6.9M349.38 373.8v6.9M438.14 373.8v6.9M526.9 373.8v6.9M83.1 373.8h-6.9M83.1 322.74h-6.9M83.1 271.69h-6.9M83.1 220.63h-6.9M83.1 169.57h-6.9M83.1 118.51h-6.9M83.1 67.46h-6.9M83.1 16.4h-6.9" stroke="#000" stroke-width="1.5" fill="none"/>
<text class="tk" x="83.1" y="397.4" text-anchor="middle">0</text>
<text class="tk" x="171.86" y="397.4" text-anchor="middle">0.5</text>
<text class="tk" x="260.62" y="397.4" text-anchor="middle">1</text>
<text class="tk" x="349.38" y="397.4" text-anchor="middle">1.5</text>
<text class="tk" x="438.14" y="397.4" text-anchor="middle">2</text>
<text class="tk" x="526.9" y="397.4" text-anchor="middle">2.5</text>
<text class="tk" x="70.6" y="377.9" text-anchor="end">0</text>
<text class="tk" x="70.6" y="326.84" text-anchor="end">0.001</text>
<text class="tk" x="70.6" y="275.79" text-anchor="end">0.002</text>
<text class="tk" x="70.6" y="224.73" text-anchor="end">0.003</text>
<text class="tk" x="70.6" y="173.67" text-anchor="end">0.004</text>
<text class="tk" x="70.6" y="122.61" text-anchor="end">0.005</text>
<text class="tk" x="70.6" y="71.56" text-anchor="end">0.006</text>
<text class="tk" x="70.6" y="20.5" text-anchor="end">0.007</text>
<text class="ti" x="305.6" y="428.7" text-anchor="middle">Thickness (μm)</text>
<text class="ti" transform="translate(28.6 195.5) rotate(-90)" text-anchor="middle" letter-spacing="0.19">Pulses/incident neutrons</text>
<text class="an" x="244" y="79.6">300 keV</text>
<text class="an" x="403.4" y="280">900 keV</text>
<path d="M430 78.2H463" stroke="#474747" stroke-width="1.15" fill="none"/>
<path transform="translate(446.6 78.2) scale(1.07)" d="M-3.6 -3.6h7.2v7.2h-7.2z" fill="#474747"/>
<text class="lg" x="466.7" y="82.7">Diamond</text>
<path d="M430 96H463" stroke="#f03b3b" stroke-width="1.15" fill="none"/>
<path transform="translate(446.6 96) scale(1.07)" d="M-4.4 0a4.4 4.4 0 1 0 8.8 0a4.4 4.4 0 1 0 -8.8 0z" fill="#f03b3b"/>
<text class="lg" x="466.7" y="100.5">SiC</text>
<path d="M430 113.7H463" stroke="#1d66e0" stroke-width="1.15" fill="none"/>
<path transform="translate(446.6 113.7) scale(1.07)" d="M0 -5.87L5.2 2.93L-5.2 2.93z" fill="#1d66e0"/>
<text class="lg" x="466.7" y="118.2">Ga<tspan font-size="8.6" dy="1">2</tspan><tspan dy="-1">O</tspan><tspan font-size="8.6" dy="1">3</tspan></text>
<path d="M430 131.3H463" stroke="#2aa560" stroke-width="1.15" fill="none"/>
<path transform="translate(446.6 131.3) scale(1.07)" d="M0 5.87L5.2 -2.93L-5.2 -2.93z" fill="#2aa560"/>
<text class="lg" x="466.7" y="135.8">GaN</text>
</svg></body></html>
